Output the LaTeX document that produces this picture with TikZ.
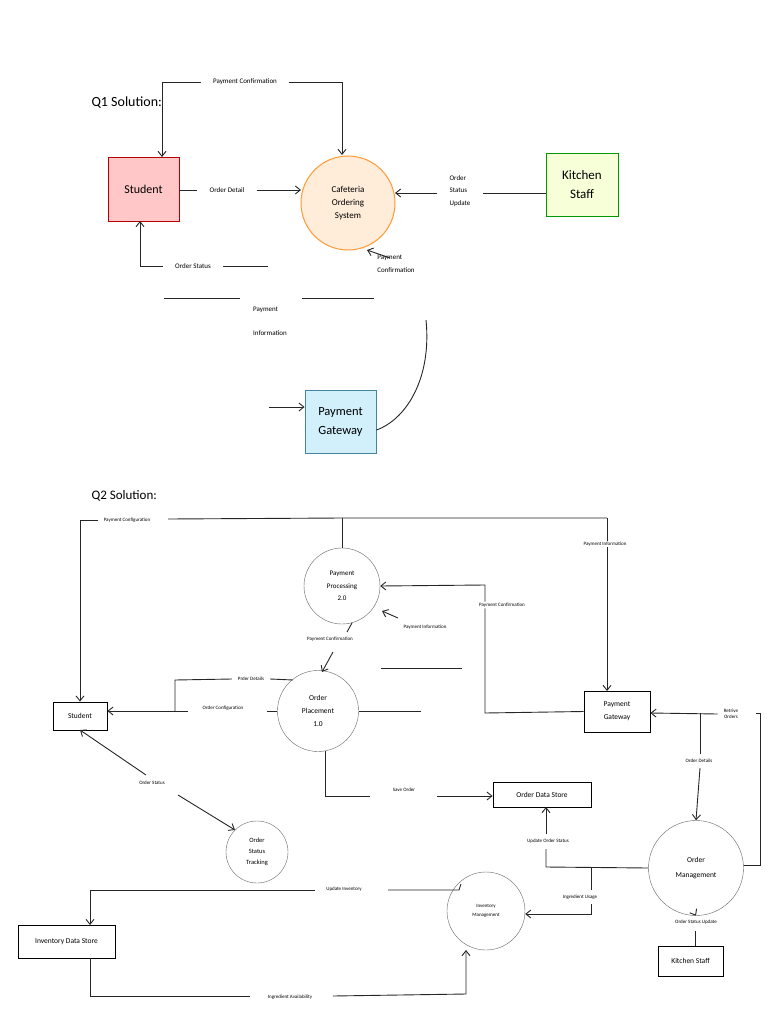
\documentclass[tikz,border=0pt]{standalone}
\usepackage{fontspec}
\setmainfont{Carlito}
\usetikzlibrary{arrows.meta}
\begin{document}
\begin{tikzpicture}[x=1pt,y=-1pt,
 ln/.style={draw=black!85,line width=0.9pt},
 ar/.style={ln,-{Straight Barb[length=5pt,width=8pt]}},
 lab/.style={font=\fontsize{7}{8}\selectfont,align=center,inner sep=1pt,inner xsep=12pt},
 sl/.style={font=\fontsize{5}{6}\selectfont,align=center,inner sep=1pt,inner xsep=6pt},
 box/.style={draw,line width=0.8pt,inner sep=0pt},
 circ/.style={draw=black!60,circle,inner sep=0pt,align=center}]
\useasboundingbox (0,0) rectangle (768,1024);
\node[font=\fontsize{14}{16}\selectfont,anchor=west] (q1) at (88,103) {Q1 Solution:};
\node[box,draw=red!70!black,fill=red!22,minimum width=71pt,minimum height=64pt,font=\fontsize{12}{14}\selectfont] (st) at (143.5,189) {Student};
\node[circ,draw=orange!80,fill=orange!15,line width=1pt,minimum size=94pt,font=\fontsize{9}{13}\selectfont] (cs) at (348,203) {Cafeteria\\Ordering\\System};
\node[box,draw=green!60!black,fill=green!20!yellow!15,minimum width=72pt,minimum height=63pt,font=\fontsize{13}{19}\selectfont,align=center] (ks) at (582,184.5) {Kitchen\\Staff};
\node[box,draw=cyan!60!black,fill=cyan!18,minimum width=71pt,minimum height=63pt,font=\fontsize{12.5}{19}\selectfont,align=center] (pg) at (340.5,421.5) {Payment\\Gateway};
% top loop
\node[lab] (pc1) at (245,82) {Payment Confirmation};
\draw[ar] (pc1.west) -- (162,82) -- (162,157);
\draw[ar] (pc1.east) -- (342,82) -- (342,155);
\node[lab] (od1) at (227,190) {Order Detail};
\draw[ln] (st.east|-od1) -- (od1.west);
\draw[ar] (od1.east) -- (301,190);
\node[lab,align=left,font=\fontsize{7}{12.5}\selectfont] (osu) at (460,191) {Order\\Status\\Update};
\draw[ln] (ks.west|-0,193) -- (osu.east|-0,193);
\draw[ar] (osu.west|-0,193) -- (395,193);
\node[lab] (os1) at (193,266) {Order Status};
\draw[ln] (os1.east) -- (268,266);
\draw[ar] (os1.west) -- (140,266) -- (140,221);
\node[lab,align=left,inner xsep=1pt,font=\fontsize{7}{12.5}\selectfont] (pc2) at (396,264) {Payment\\Confirmation};
\coordinate (pc2s) at (390,258);
\draw[ar] (pc2s) -- (367,250);
\coordinate (a1) at (164,298); \coordinate (a2) at (240,298);
\coordinate (a3) at (302,298); \coordinate (a4) at (374,298);
\draw[ln] (a1) -- (a2); \draw[ln] (a3) -- (a4);
\node[lab,font=\fontsize{7}{24}\selectfont,align=left] (pi1) at (270,321) {Payment\\Information};
\coordinate (c1) at (426,320);
\draw[ln] (c1) .. controls (432,380) and (405,420) .. (pg.east|-0,430);
\coordinate (c2) at (269,407);
\draw[ar] (c2) -- (pg.west|-c2);
% Q2
\node[font=\fontsize{13}{14}\selectfont,anchor=west] (q2) at (88,496) {Q2 Solution:};
\node[box,minimum width=54pt,minimum height=28pt,font=\fontsize{7.5}{9}\selectfont] (st2) at (80,716) {Student};
\node[circ,minimum size=76pt,font=\fontsize{7}{12.5}\selectfont] (pp) at (342,586) {Payment\\Processing\\2.0};
\node[circ,minimum size=81pt,font=\fontsize{7.5}{13}\selectfont] (op) at (318,711) {Order\\Placement\\1.0};
\node[circ,minimum size=62pt,font=\fontsize{6.5}{11}\selectfont] (ost) at (257,852) {Order\\Status\\Tracking};
\node[box,minimum width=66pt,minimum height=41pt,font=\fontsize{7.5}{13}\selectfont,align=center] (pg2) at (617,711.5) {Payment\\Gateway};
\node[box,minimum width=98pt,minimum height=25pt,font=\fontsize{7.5}{9}\selectfont] (ods) at (542,794.5) {Order Data Store};
\node[circ,minimum size=95pt,font=\fontsize{7.5}{15}\selectfont] (om) at (696,868) {Order\\Management};
\node[circ,minimum size=78pt,font=\fontsize{5}{9}\selectfont] (im) at (486,911) {Inventory\\Management};
\node[box,minimum width=97pt,minimum height=33pt,font=\fontsize{7.5}{9}\selectfont] (ids) at (66.5,941.5) {Inventory Data Store};
\node[box,minimum width=65pt,minimum height=30pt,font=\fontsize{7.5}{9}\selectfont] (ks2) at (690.5,961) {Kitchen Staff};
% flows
\node[sl] (pcf) at (127,520) {Payment Configuration};
\draw[ar] (pcf.west) -- (80,520) -- (st2.north);
\node[sl] (pinf) at (605,544) {Payment Information};
\draw[ln] (168,519) -- (342,518) -- (607,518);
\draw[ln] (pp.north) -- (342,518);
\draw[ln] (607,518) -- (pinf.north-|607,0);
\draw[ar] (pinf.south-|607,0) -- (607,691);
\node[sl] (pcf2) at (502,605) {Payment Confirmation};
\draw[ln] (pg2.west) -- (485,713) -- (pcf2.south-|485,0);
\draw[ar] (pcf2.north-|485,0) -- (485,585) -- (pp.east);
\node[sl] (pin2) at (425,627) {Payment Information};
\coordinate (pin2s) at (398,618);
\draw[ar] (pin2s) -- (382,611);
\node[sl] (pcf3) at (330,639) {Payment Confirmation};
\draw[ln] (352,623) -- (347,632);
\coordinate (pcf3s) at (333,652);
\draw[ar] (pcf3s) -- (322,672);
\draw[ln] (381,668) -- (462,668);
\draw[ln] (op.east) -- (421,711);
\node[sl] (pd) at (251,679) {Prder Details};
\node[sl] (oc) at (223,708) {Order Configuration};
\draw[ln] (293,680) -- (pd.east);
\draw[ln] (pd.west) -- (175,680) -- (175,711);
\draw[ln] (op.west) -- (267,711);
\draw[ar] (188,711) -- (st2.east|-0,711);
\node[sl] (os2) at (152,783) {Order Status};
\draw[ar] (146,775) -- (80,730);
\draw[ar] (178,795) -- (ost.north west);
\node[sl] (so) at (404,790) {Save Order};
\draw[ln] (325,751) -- (325,796) -- (370,796);
\draw[ar] (437,796) -- (ods.west|-0,796);
\node[sl] (uos) at (548,841) {Update Order Status};
\draw[ar] (546,834) -- (546,807);
\draw[ln] (546,849) -- (546,867) -- (om.west);
\node[sl] (odl) at (699,761) {Order Details};
\draw[ln] (700,713) -- (700,754);
\draw[ar] (700,768) -- (om.north);
\node[sl] (ro) at (731,714) {Retrive\\Orders};
\draw[ar] (ro.west) -- (pg2.east|-0,713);
\draw[ln] (om.east|-0,865) -- (760,865) -- (760,713) -- (756,713);
\node[sl] (iu) at (580,897) {Ingredient Usage};
\draw[ln] (591,867) -- (591,890);
\draw[ar] (591,904) -- (591,914) -- (im.east|-0,914);
\node[sl] (ui) at (344,889) {Update Inventory};
\draw[ln] (461,884) -- (459,890) -- (388,890);
\draw[ar] (315,890) -- (90,890) -- (90,925);
\node[sl] (ia) at (290,997) {Ingredient Availability};
\draw[ln] (90,958) -- (90,996) -- (250,996);
\draw[ar] (333,996) -- (466,994) -- (466,950);
\node[sl] (osu2) at (696,922) {Order Status Update};
\draw[ln] (ks2.north-|695,0) -- (695,931);
\draw[ar] (695,914) -- (om.south);
\end{tikzpicture}
\end{document}
